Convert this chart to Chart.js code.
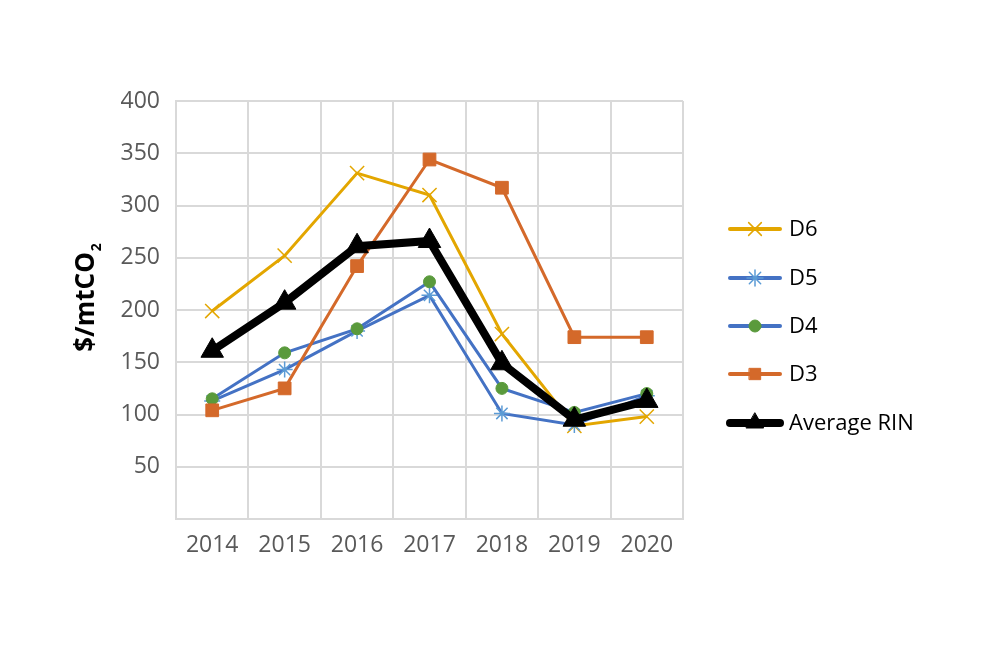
<!DOCTYPE html>
<html>
<head>
<meta charset="utf-8">
<script src="https://cdn.jsdelivr.net/npm/chart.js@4.4.1/dist/chart.umd.min.js"></script>
<style>
  html, body { margin: 0; padding: 0; background: #fff; }
  #wrap { width: 1000px; height: 650px; }
</style>
</head>
<body>
<div id="wrap"><canvas id="rinChart" width="1000" height="650"></canvas></div>
<script>
(function () {
    // Data
    const years = ["2014", "2015", "2016", "2017", "2018", "2019", "2020"];
    const d6 = [199, 252, 331, 310, 177, 89, 98];
    const d5 = [113, 143, 180, 214, 101, 90, 118];
    const d4 = [115, 159, 182, 227, 125, 102, 120];
    const d3 = [104, 125, 242, 344, 317, 174, 174];
    const avgRin = [161, 207, 261, 266, 149, 95, 113];
    const yTicks = [50, 100, 150, 200, 250, 300, 350, 400];

    const font = "'Open Sans', 'DejaVu Sans', sans-serif";

    const series = [
        { label: "D6", data: d6, line: "#E3A600", marker: "#E3A600", style: "crossRot", radius: 10, legR: 9, width: 3, order: 4 },
        { label: "D5", data: d5, line: "#4472C4", marker: "#5B9BD5", style: "star", radius: 8, legR: 8, width: 3, order: 3 },
        { label: "D4", data: d4, line: "#4472C4", marker: "#5A9A3C", style: "circle", radius: 6, legR: 6, width: 3, order: 2 },
        { label: "D3", data: d3, line: "#D4692A", marker: "#D4692A", style: "rect", radius: 9, legR: 8, width: 3, order: 1 },
        { label: "Average RIN", data: avgRin, line: "#000000", marker: "#000000", style: "triangle", radius: 13, legR: 10, width: 8, order: 0 }
    ];

    const thin = s => (s.style === "crossRot" || s.style === "star" ? 1.5 : 1);

    // Legend on the right, line + marker like the spreadsheet one
    const sideLegend = {
        id: "sideLegend",
        afterDraw(chart) {
            const ctx = chart.ctx;
            const rows = [229, 278, 326, 374, 423];
            ctx.save();
            series.forEach((s, i) => {
                const y = rows[i];
                ctx.strokeStyle = s.line;
                ctx.lineWidth = s.width === 8 ? 8 : 4;
                ctx.lineCap = "round";
                ctx.beginPath();
                ctx.moveTo(730, y);
                ctx.lineTo(780, y);
                ctx.stroke();
                ctx.fillStyle = s.marker;
                ctx.strokeStyle = s.marker;
                ctx.lineWidth = thin(s);
                Chart.helpers.drawPoint(ctx, {
                    pointStyle: s.style,
                    radius: s.legR,
                    rotation: 0,
                    borderWidth: thin(s)
                }, 755, y);
                ctx.fillStyle = "#000";
                ctx.font = "22px " + font;
                ctx.textAlign = "left";
                ctx.textBaseline = "middle";
                ctx.fillText(s.label, 789, y + 1);
            });
            ctx.restore();
        }
    };

    // Rotated y title with subscript 2
    const yTitle = {
        id: "yTitle",
        afterDraw(chart) {
            const ctx = chart.ctx;
            ctx.save();
            ctx.translate(87, 298);
            ctx.rotate(-Math.PI / 2);
            ctx.fillStyle = "#000";
            ctx.textBaseline = "middle";
            ctx.font = "bold 26px " + font;
            const main = "$/mtCO";
            const w = ctx.measureText(main).width;
            ctx.font = "bold 14px " + font;
            const ws = ctx.measureText("2").width;
            const x0 = -(w + ws) / 2;
            ctx.font = "bold 26px " + font;
            ctx.textAlign = "left";
            ctx.fillText(main, x0, 0);
            ctx.font = "bold 14px " + font;
            ctx.fillText("2", x0 + w + 1, 10);
            ctx.restore();
        }
    };

    const ctx = document.getElementById("rinChart").getContext("2d");
    new Chart(ctx, {
        type: "line",
        data: {
            labels: years,
            datasets: series.map(s => ({
                label: s.label,
                data: s.data,
                borderColor: s.line,
                borderWidth: s.width,
                backgroundColor: s.marker,
                pointStyle: s.style,
                pointRadius: s.radius,
                pointBackgroundColor: s.marker,
                pointBorderColor: s.marker,
                pointBorderWidth: thin(s),
                tension: 0,
                fill: false,
                order: s.order
            }))
        },
        options: {
            responsive: false,
            animation: false,
            layout: { padding: { top: 101, right: 317, left: 0, bottom: 0 } },
            plugins: {
                legend: { display: false },
                tooltip: { enabled: false }
            },
            scales: {
                x: {
                    offset: true,
                    grid: { offset: true, color: "#D9D9D9", lineWidth: 2, drawTicks: false },
                    border: { color: "#D9D9D9", width: 2 },
                    ticks: { color: "#595959", font: { family: font, size: 23 }, padding: 13 },
                    afterFit: scale => { scale.height = 131; }
                },
                y: {
                    min: 0,
                    max: 400,
                    afterBuildTicks: scale => {
                        scale.ticks = [0].concat(yTicks).map(v => ({ value: v }));
                    },
                    grid: { color: "#D9D9D9", lineWidth: 2, drawTicks: false },
                    border: { color: "#D9D9D9", width: 2 },
                    ticks: {
                        color: "#595959",
                        font: { family: font, size: 23 },
                        padding: 16,
                        callback: v => (v === 0 ? "" : v)
                    },
                    afterFit: scale => { scale.width = 176; }
                }
            }
        },
        plugins: [sideLegend, yTitle]
    });
})();
</script>
</body>
</html>
